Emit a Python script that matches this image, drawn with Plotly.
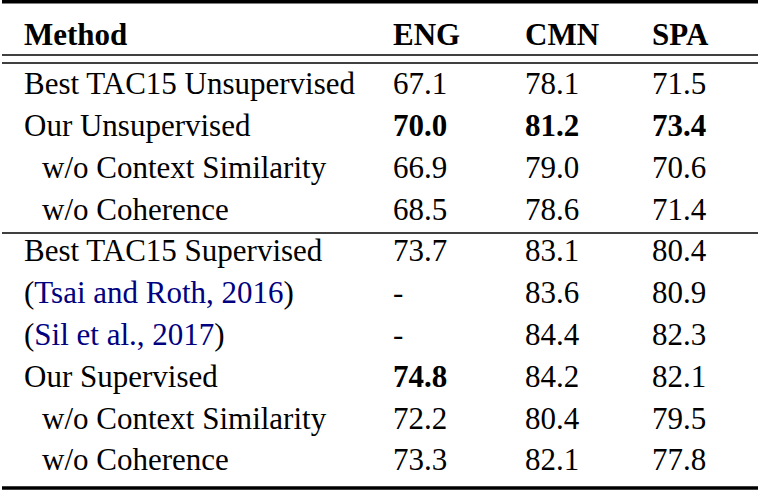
import plotly.graph_objects as go

# table content
headers = ["Method", "ENG", "CMN", "SPA"]
methods = ["Best TAC15 Unsupervised", "Our Unsupervised",
           "w/o Context Similarity", "w/o Coherence",
           "Best TAC15 Supervised", "(Tsai and Roth, 2016)", "(Sil et al., 2017)",
           "Our Supervised", "w/o Context Similarity", "w/o Coherence"]
indented = [False, False, True, True, False, False, False, False, True, True]
citation = [False, False, False, False, False, True, True, False, False, False]
eng = ["67.1", "70.0", "66.9", "68.5", "73.7", "-", "-", "74.8", "72.2", "73.3"]
cmn = ["78.1", "81.2", "79.0", "78.6", "83.1", "83.6", "84.4", "84.2", "80.4", "82.1"]
spa = ["71.5", "73.4", "70.6", "71.4", "80.4", "80.9", "82.3", "82.1", "79.5", "77.8"]
bold_eng = [False, True, False, False, False, False, False, True, False, False]
bold_cmn = [False, True, False, False, False, False, False, False, False, False]
bold_spa = [False, True, False, False, False, False, False, False, False, False]

W, H = 763, 491
FONT = "Liberation Serif"
SIZE = 31
NAVY = "#000080"
col_x = [24, 393, 525, 652]
header_y = 37
row0_y = 86.5
row_step = 41.8


def fmt(v, b):
    return "<b>%s</b>" % v if b else v


def cite(s):
    return "(<span style='color:%s'>%s</span>)" % (NAVY, s[1:-1])


row_y = [row0_y + i * row_step for i in range(len(methods))]
labels = [cite(m) if c else m for m, c in zip(methods, citation)]
label_x = [col_x[0] + (18 if ind else 0) for ind in indented]

fig = go.Figure()
fig.add_trace(go.Scatter(
    x=col_x, y=[header_y] * 4, mode="text",
    text=["<b>%s</b>" % h for h in headers], textposition="middle right",
    textfont=dict(family=FONT, size=SIZE, color="black"),
    hoverinfo="skip", showlegend=False))
fig.add_trace(go.Scatter(
    x=label_x, y=row_y, mode="text", text=labels, textposition="middle right",
    textfont=dict(family=FONT, size=SIZE, color="black"),
    hoverinfo="skip", showlegend=False))
for cx, vals, bolds in zip(col_x[1:], [eng, cmn, spa], [bold_eng, bold_cmn, bold_spa]):
    fig.add_trace(go.Scatter(
        x=[cx] * len(vals), y=row_y, mode="text",
        text=[fmt(v, b) for v, b in zip(vals, bolds)], textposition="middle right",
        textfont=dict(family=FONT, size=SIZE, color="black"),
        hoverinfo="skip", showlegend=False))

# rules
x0, x1 = 2, 758
for y, w in [(1.8, 3.6), (55, 1.5), (63, 1.5), (233, 1.5), (488, 3.6)]:
    fig.add_shape(type="line", x0=x0, x1=x1, y0=y, y1=y,
                  line=dict(color="black", width=w))

fig.update_layout(
    width=W, height=H, margin=dict(l=0, r=0, t=0, b=0),
    paper_bgcolor="white", plot_bgcolor="white",
    xaxis=dict(range=[0, W], visible=False, fixedrange=True),
    yaxis=dict(range=[H, 0], visible=False, fixedrange=True),
)
fig.write_html("out.html", config={"displayModeBar": False},
               post_script="document.body.style.margin='0px';document.body.style.overflow='hidden';")
